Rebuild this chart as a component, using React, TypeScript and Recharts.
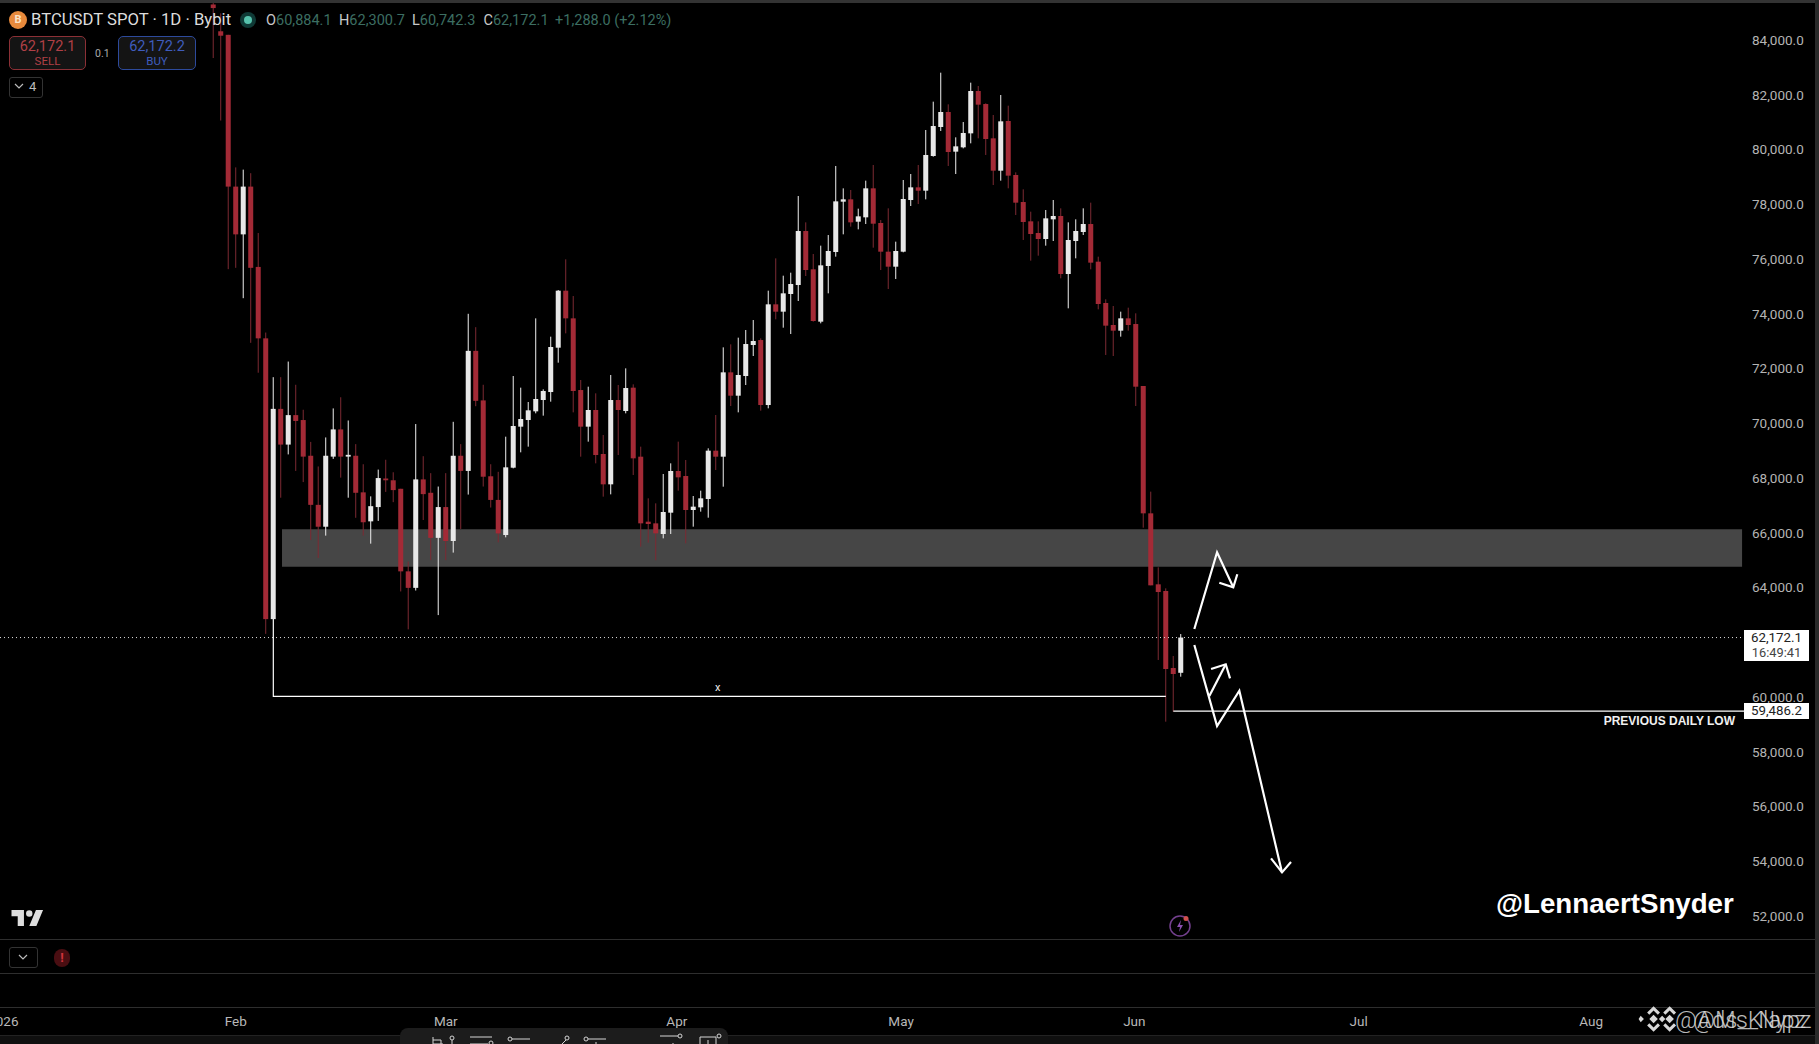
import { Bar, ComposedChart, Line, ReferenceArea, ReferenceLine, XAxis, YAxis } from 'recharts';

const FIRST_DAY = 28; // days since Jan 1 2026

const opens = [
  85305, 84326, 84196, 78650, 76905, 78650, 75715, 73105, 62846, 70528, 69223, 70300, 70120, 68815, 67021, 66222, 68783, 69778, 68783, 68815, 67478, 66418, 66940, 67984, 67919, 67608, 64591, 63988, 67951, 67462, 65815, 66940, 65700, 68815, 68261, 72648, 70838, 68065, 67201,
  65919, 68379, 69878, 70121, 70438, 70852, 71144, 72764, 74847, 73836, 71217, 69878, 70487, 68879, 67771, 70852, 70450, 71303, 68781, 66406, 66345, 65956, 66735, 68258, 68075, 66833, 66930, 67235, 69001, 68781, 71863, 71010, 71729, 72862, 73044, 70669, 74348,
  74080, 74726, 75054, 77027, 75627, 73715, 75749, 76260, 78099, 78185, 77368, 77527, 78587, 77320, 76272, 75724, 76272, 78160, 78623, 78501,
  79768, 80828, 81376, 79927, 80085, 80596, 82143, 81668, 80414, 79232, 81047, 79074, 78087, 77381, 76955, 76735, 77454, 77576, 75456, 76662, 76991, 77283, 75907, 74397, 73593, 73386, 73836, 73629,
  71364, 66711, 64117, 63873, 61059, 60884.1,
];
const highs = [
  85370, 84979, 84196, 79352, 79270, 79140, 76954, 73317, 71686, 71686, 72257, 71409, 70496, 69321, 68424, 69484, 70545, 70952, 70104, 69240, 68505, 67331, 68310, 68668, 68212, 67608, 64950, 69974, 68799, 68179, 67690, 68179, 70055, 69240, 74002, 73513, 71409, 68505, 68228,
  69512, 71729, 71303, 70779, 73836, 71242, 73166, 74870, 75992, 74652, 71583, 71339, 71096, 69573, 71766, 71400, 72009, 71424, 69147, 67259, 67076, 68148, 68538, 69330, 68660, 67344, 67539, 69086, 70304, 72776, 72886, 73130, 73410, 73775, 73105, 74847, 76028,
  75395, 75505, 78306, 77344, 76187, 76492, 76881, 79403, 78586, 78526, 77844, 78867, 79439, 77429, 77856, 76638, 78891, 79110, 79439, 80718,
  81754, 82813, 81656, 80450, 81010, 82448, 82326, 81693, 81266, 81997, 81607, 79171, 78550, 77734, 77381, 77795, 78160, 77856, 77344, 77454, 77856, 78063, 76090, 74531, 74287, 74080, 74226, 74019,
  71364, 67503, 64738, 63970, 61498, 62300.7,
];
const lows = [
  83348, 81064, 75633, 75682, 74573, 72942, 71849, 62308, 62846, 67282, 68864, 68261, 67853, 65733, 65080, 65896, 68701, 68016, 67282, 66548, 65896, 65603, 66434, 67494, 67119, 63857, 62471, 63891, 66467, 65000, 62993, 65000, 65276, 66140, 67397, 70626, 67690, 66923, 65651,
  65834, 68355, 68940, 69147, 70365, 70280, 70791, 72216, 73288, 70401, 68781, 69330, 68538, 67320, 67405, 68842, 70365, 68112, 65493, 65639, 64996, 65797, 65956, 67539, 65615, 66224, 66772, 66552, 68294, 67685, 70633, 70401, 71400, 72460, 70462, 70548, 73800,
  73495, 73264, 74470, 75383, 73715, 73654, 74750, 76090, 76906, 77186, 77088, 77283, 76418, 75602, 74908, 75274, 76248, 77941, 78014, 78185,
  79744, 80682, 79403, 79110, 80048, 80231, 80414, 79805, 78708, 78867, 78587, 77612, 76699, 75944, 76126, 76492, 76662, 75298, 74202, 76029, 76882, 75627, 74165, 72497, 72460, 73167, 73386, 70633,
  66187, 64080, 61352, 59098, 59464, 60742.3,
];
const closes = [
  85174, 84163, 78650, 76905, 78650, 75682, 73105, 62846, 70528, 69223, 70300, 70087, 68783, 67021, 66222, 68815, 69778, 68783, 68848, 67462, 66385, 66973, 68000, 67919, 67560, 64591, 63988, 67951, 67413, 65815, 66940, 65700, 68815, 68261, 72648, 70822, 68049, 67201, 65977,
  68392, 69902, 70158, 70475, 70889, 71181, 72789, 74847, 73836, 71181, 69878, 70487, 68842, 67771, 70852, 70487, 71290, 68721, 66345, 66321, 65980, 66760, 68258, 68026, 66833, 66955, 67259, 69001, 68781, 71863, 71010, 71766, 72898, 73008, 70669, 74348, 74080,
  74750, 75091, 77027, 75602, 73739, 75773, 76297, 78111, 78185, 77344, 77563, 78587, 77295, 76272, 75724, 76297, 78197, 78623, 78501, 79805,
  80864, 81376, 79914, 80121, 80609, 82143, 81644, 80389, 79232, 81035, 79050, 78063, 77357, 76918, 76735, 77490, 77576, 75456, 76699, 77028, 77283, 75871, 74360, 73569, 73386, 73836, 73593, 71339,
  66711, 64080, 63836, 61023, 60840, 62172.1,
];

const monthDays = [0, 31, 59, 89.8, 119.7, 150.8, 180.7, 211.7];
const monthLabels = ['2026', 'Feb', 'Mar', 'Apr', 'May', 'Jun', 'Jul', 'Aug'];
const priceTicks = [52000, 54000, 56000, 58000, 60000, 62000, 64000, 66000, 68000, 70000, 72000, 74000, 76000, 78000, 80000, 82000, 84000];

const rangeLow = [
  { day: 36, price: 62846 },
  { day: 36, price: 60020 },
  { day: 155, price: 60020 },
];
const arrowUp = [
  { day: 158.8, price: 62485 },
  { day: 161.83, price: 65287 },
  { day: 163.99, price: 64008 },
];
const arrowUpHead = [
  { day: 162.13, price: 64177 },
  { day: 163.99, price: 64008 },
  { day: 164.53, price: 64484 },
];
const arrowDown = [
  { day: 158.8, price: 61900 },
  { day: 161.83, price: 58940 },
  { day: 164.8, price: 60230 },
  { day: 170.49, price: 53591 },
];
const arrowDownHead = [
  { day: 169.03, price: 54102 },
  { day: 170.49, price: 53591 },
  { day: 171.69, price: 53971 },
];
const arrowSmall = [
  { day: 160.8, price: 60037 },
  { day: 162.99, price: 61195 },
];
const arrowSmallHead = [
  { day: 161.03, price: 61023 },
  { day: 162.99, price: 61195 },
  { day: 163.56, price: 60683 },
];
const drawings = [rangeLow, arrowUp, arrowUpHead, arrowDown, arrowDownHead, arrowSmall, arrowSmallHead];

const candles = opens.map((open, i) => ({
  day: FIRST_DAY + i,
  open,
  high: highs[i],
  low: lows[i],
  close: closes[i],
}));

const RED = '#a32a36';
const RED_WICK = '#7d2a33';
const WHITE = '#e8e8e8';
const SANS = 'Roboto, sans-serif';

function Candle(props: any) {
  const { x, y, width, height, payload } = props;
  const perUnit = height / (payload.high - payload.low);
  const yOf = (v: number) => y + (payload.high - v) * perUnit;
  const up = payload.close >= payload.open;
  const top = yOf(Math.max(payload.open, payload.close));
  const bottom = yOf(Math.min(payload.open, payload.close));
  const cx = x + width / 2;
  return (
    <g>
      <line x1={cx} x2={cx} y1={y} y2={y + height} stroke={up ? '#f0f0f0' : RED_WICK} strokeWidth={1} />
      <rect x={cx - 2.5} y={top} width={5} height={Math.max(bottom - top, 1.5)} fill={up ? WHITE : RED} />
    </g>
  );
}

function abs(left: number, top: number, extra: any = {}): any {
  return { position: 'absolute', left, top, ...extra };
}

function Header() {
  const dim = '#3c6e62';
  const lab = '#c8c8c8';
  const ohlc = [
    [266, 'O', '60,884.1'],
    [339, 'H', '62,300.7'],
    [412, 'L', '60,742.3'],
    [483.5, 'C', '62,172.1'],
  ];
  return (
    <>
      <div style={abs(9, 11, { width: 18, height: 18, borderRadius: 9, background: '#e88a3c', color: '#fbe3c8', fontSize: 11, lineHeight: '18px', textAlign: 'center', fontFamily: SANS, fontWeight: 700 })}>B</div>
      <div style={abs(31, 10, { color: '#dcdcdc', fontSize: 16.7, lineHeight: '20px', fontFamily: SANS, whiteSpace: 'nowrap' })}>BTCUSDT SPOT · 1D · Bybit</div>
      <div style={abs(240, 12, { width: 16, height: 16, borderRadius: 8, background: '#0f3a36' })} />
      <div style={abs(244, 16, { width: 8, height: 8, borderRadius: 4, background: '#56c2ac' })} />
      {ohlc.map(([x, l, v]) => (
        <div key={l as string} style={abs(x as number, 13, { fontSize: 14.5, lineHeight: '16px', fontFamily: SANS, whiteSpace: 'nowrap', color: dim })}>
          <span style={{ color: lab }}>{l}</span>{v}
        </div>
      ))}
      <div style={abs(555, 13, { fontSize: 14.5, lineHeight: '16px', fontFamily: SANS, whiteSpace: 'nowrap', color: dim })}>+1,288.0 (+2.12%)</div>
      <div style={abs(9, 36, { width: 75, height: 32, border: '1px solid #8c3036', borderRadius: 5, background: '#141414', textAlign: 'center', fontFamily: SANS, color: '#b04046' })}>
        <div style={{ fontSize: 14.5, lineHeight: '16px', marginTop: 2 }}>62,172.1</div>
        <div style={{ fontSize: 11.5, lineHeight: '12px' }}>SELL</div>
      </div>
      <div style={abs(95, 47, { color: '#aaa', fontSize: 10.5, lineHeight: '14px', fontFamily: SANS })}>0.1</div>
      <div style={abs(118, 36, { width: 76, height: 32, border: '1px solid #2d4a9c', borderRadius: 5, background: '#141414', textAlign: 'center', fontFamily: SANS, color: '#3f5cbc' })}>
        <div style={{ fontSize: 14.5, lineHeight: '16px', marginTop: 2 }}>62,172.2</div>
        <div style={{ fontSize: 11.5, lineHeight: '12px' }}>BUY</div>
      </div>
      <div style={abs(9, 77, { width: 32, height: 19, border: '1px solid #333', borderRadius: 3 })} />
      <svg style={abs(14, 83)} width={10} height={7}><path d="M1 1l4 4 4-4" fill="none" stroke="#bbb" strokeWidth={1.2} /></svg>
      <div style={abs(29, 79, { color: '#bbb', fontSize: 13, lineHeight: '16px', fontFamily: SANS })}>4</div>
    </>
  );
}

function PriceLabels() {
  const box: any = { background: '#fff', color: '#222', fontSize: 13.3, fontFamily: SANS, textAlign: 'center', width: 65 };
  return (
    <>
      <div style={abs(1744, 630, { ...box, height: 31, lineHeight: '14.5px', paddingTop: 1, boxSizing: 'border-box' })}>
        <div>62,172.1</div>
        <div style={{ color: '#444', fontSize: 12.8 }}>16:49:41</div>
      </div>
      <div style={abs(1744, 703, { ...box, height: 16, lineHeight: '16px' })}>59,486.2</div>
      <div style={abs(1535, 714, { width: 200, textAlign: 'right', color: '#f0f0f0', fontSize: 12, fontWeight: 700, lineHeight: '15px', fontFamily: '"Liberation Sans", sans-serif', whiteSpace: 'nowrap' })}>PREVIOUS DAILY LOW</div>
      <div style={abs(715, 681, { color: '#eee', fontSize: 11, lineHeight: '14px', fontFamily: SANS })}>x</div>
      <div style={abs(1496, 886, { color: '#fff', fontSize: 27.7, fontWeight: 700, lineHeight: '36px', fontFamily: '"Liberation Sans", sans-serif', whiteSpace: 'nowrap' })}>@LennaertSnyder</div>
    </>
  );
}

function Chrome() {
  const rule = (top: number, color = '#2e2e2e') => <div key={top} style={abs(0, top, { width: 1815, height: 1, background: color })} />;
  return (
    <>
      <div style={abs(0, 0, { width: 1819, height: 3, background: '#333' })} />
      <div style={abs(1815, 0, { width: 4, height: 1044, background: '#2a2a2a' })} />
      {[939, 973, 1007].map((t) => rule(t))}
      <div style={abs(0, 1035, { width: 1815, height: 9, background: '#0f0f0f', borderTop: '1px solid #222', boxSizing: 'border-box' })} />
      <svg style={abs(11, 910)} width={33} height={16} viewBox="0 0 36 18">
        <path d="M14 18H7V7H0V0h14v18zM28 18h-8l7.5-18h8L28 18z" fill="#dedede" />
        <circle cx="20" cy="4" r="3.6" fill="#dedede" />
      </svg>
      <div style={abs(9, 947, { width: 27, height: 19, border: '1px solid #333', borderRadius: 3 })} />
      <svg style={abs(18, 954)} width={10} height={7}><path d="M1 1l4 4 4-4" fill="none" stroke="#bbb" strokeWidth={1.2} /></svg>
      <div style={abs(54, 949, { width: 16, height: 18, borderRadius: 9, background: '#4a0e12', color: '#d0343c', fontSize: 13, fontWeight: 700, lineHeight: '18px', textAlign: 'center', fontFamily: SANS })}>!</div>
      <svg style={abs(1168, 914)} width={24} height={24} viewBox="0 0 24 24">
        <circle cx="12" cy="12" r="10" fill="none" stroke="#74408f" strokeWidth={1.5} />
        <path d="M13 6l-4 7h3l-1 5 4-7h-3z" fill="#8a4fb0" />
        <circle cx="18" cy="4.5" r="2.5" fill="#d0504f" />
      </svg>
      <div style={abs(400, 1028, { width: 328, height: 16, background: '#1c1c1c', borderRadius: '8px 8px 0 0' })} />
      <svg style={abs(400, 1028)} width={328} height={16}>
        <g fill="none" stroke="#d5d5d5" strokeWidth={1}>
          <path d="M33 9v7M33 12h8v4M33 16h10" />
          <circle cx="52" cy="10" r="2" />
          <path d="M52 12v4M70 9h22M70 16h18" />
          <circle cx="91" cy="15" r="2" />
          <circle cx="110" cy="11" r="2" />
          <path d="M112 11h18" />
          <circle cx="167" cy="10" r="2" />
          <path d="M166 12l-4 4" />
          <circle cx="186" cy="11" r="2" />
          <path d="M188 11h18M196 14v2" />
          <path d="M260 8h18M275 8v0M272 16h2" />
          <circle cx="280" cy="8" r="2" />
          <path d="M300 9h16v7M300 9v7M308 12v4" />
          <circle cx="319" cy="8" r="2" />
        </g>
      </svg>
      <svg style={abs(1638, 1004)} width={44} height={30} viewBox="0 0 40 28">
        <g fill="#d8d8d8">
          <path d="M14 2l6 6-2 2-4-4-4 4-2-2zM14 26l6-6-2-2-4 4-4-4-2 2zM14 10l4 4-4 4-4-4zM2 11l3 3-3 3-2-3zM22 11l3 3-3 3-3-3z" />
          <path d="M29 2l6 6-2 2-4-4-4 4-2-2zM29 26l6-6-2-2-4 4-4-4-2 2zM29 10l4 4-4 4-4-4z" />
        </g>
      </svg>
      <div style={abs(1675, 1005, { color: '#dadada', fontSize: 24, lineHeight: '30px', fontFamily: SANS, fontWeight: 300, whiteSpace: 'nowrap', opacity: 0.85 })}>@Ads_Klapz</div>
      <div style={abs(1693, 1005, { color: '#dadada', fontSize: 24, lineHeight: '30px', fontFamily: SANS, fontWeight: 300, whiteSpace: 'nowrap', opacity: 0.85 })}>@Ms_Nypz</div>
    </>
  );
}

export default function App() {
  return (
    <div style={{ position: 'absolute', left: 0, top: 0, width: 1819, height: 1044, background: '#000', overflow: 'hidden' }}>
      <ComposedChart width={1819} height={1044} data={candles} margin={{ top: 3, right: 0, bottom: 0, left: 0 }}>
        <XAxis
          dataKey="day"
          type="number"
          domain={[-0.44, 232.22]}
          allowDataOverflow
          ticks={monthDays}
          interval={0}
          tickFormatter={(d: number) => monthLabels[monthDays.indexOf(d)]}
          height={105}
          tickMargin={71}
          axisLine={false}
          tickLine={false}
          tick={{ fill: '#b8b8b8', fontSize: 13.5, fontFamily: SANS }}
        />
        <YAxis
          orientation="right"
          type="number"
          domain={[51157, 85359]}
          allowDataOverflow
          ticks={priceTicks}
          interval={0}
          width={74}
          tickSize={0}
          tickMargin={7}
          axisLine={false}
          tickLine={false}
          tickFormatter={(v: number) => v.toLocaleString('en-US', { minimumFractionDigits: 1 })}
          tick={{ fill: '#b4b4b4', fontSize: 13.5, fontFamily: SANS }}
        />
        <ReferenceArea x1={37.16} x2={231.83} y1={66130} y2={64755} fill="#464646" fillOpacity={1} stroke="none" />
        <Bar dataKey={(d: any) => [d.low, d.high]} barSize={5} shape={Candle} isAnimationActive={false} />
        <ReferenceLine y={62172.1} stroke="#dcdcdc" strokeDasharray="1 3" />
        <ReferenceLine segment={[{ x: 156, y: 59486.2 }, { x: 232.22, y: 59486.2 }]} stroke="#fff" strokeWidth={1.2} />
        {drawings.map((d, i) => (
          <Line
            key={i}
            data={d}
            dataKey="price"
            stroke="#fff"
            strokeWidth={i === 0 ? 1.2 : 2.2}
            dot={false}
            activeDot={false}
            isAnimationActive={false}
            strokeLinejoin="miter"
            strokeLinecap="butt"
          />
        ))}
      </ComposedChart>
      <Chrome />
      <Header />
      <PriceLabels />
    </div>
  );
}
